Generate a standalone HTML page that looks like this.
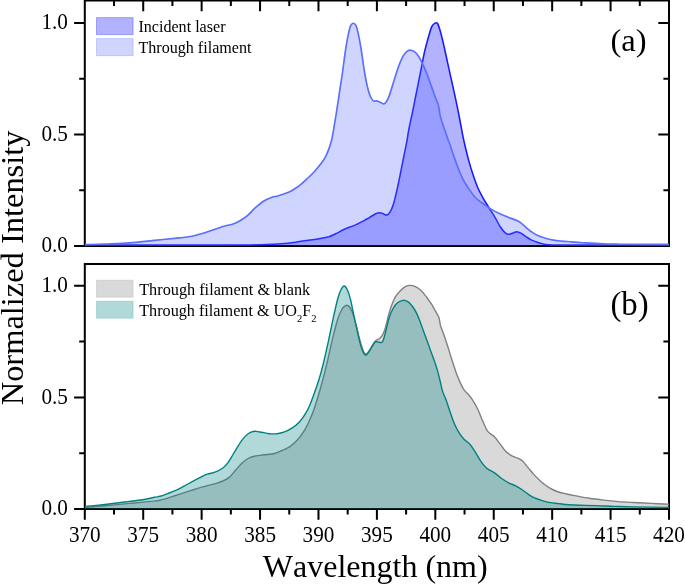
<!DOCTYPE html>
<html><head><meta charset="utf-8"><title>Spectra</title>
<style>html,body{margin:0;padding:0;background:#fff}svg{display:block}text{font-family:"Liberation Serif","Times New Roman",serif;fill:#000;font-kerning:none}</style></head>
<body>
<svg width="685" height="585" viewBox="0 0 685 585">
<rect width="685" height="585" fill="#fff"/>
<!-- panel a -->
<g stroke="#000" stroke-width="2" fill="none" stroke-linecap="butt">
<rect x="84.8" y="0.5" width="584.2" height="245.5"/>
<path d="M114.01,0.5v5.6M143.22,0.5v10.7M172.43,0.5v5.6M201.64,0.5v10.7M230.85,0.5v5.6M260.06,0.5v10.7M289.27,0.5v5.6M318.48,0.5v10.7M347.69,0.5v5.6M376.90,0.5v10.7M406.11,0.5v5.6M435.32,0.5v10.7M464.53,0.5v5.6M493.74,0.5v10.7M522.95,0.5v5.6M552.16,0.5v10.7M581.37,0.5v5.6M610.58,0.5v10.7M639.79,0.5v5.6M84.8,246.00h-10.7M84.8,190.25h-5.6M669.0,190.25h-5.6M84.8,134.50h-10.7M669.0,134.50h-10.7M84.8,78.75h-5.6M669.0,78.75h-5.6M84.8,23.00h-10.7M669.0,23.00h-10.7"/>
</g>
<path d="M85.0,245.1C95.8,245.1 127.5,245.1 150.0,245.1C172.5,245.1 203.3,245.1 220.0,245.1C236.7,245.1 243.0,245.1 250.0,245.0C257.0,244.9 258.2,244.8 262.0,244.7C265.8,244.6 269.3,244.4 273.0,244.2C276.7,244.0 280.6,243.9 284.4,243.6C288.2,243.3 291.9,242.7 295.6,242.2C299.3,241.7 303.0,240.9 306.7,240.4C310.4,239.9 314.1,239.5 317.8,238.9C321.5,238.3 325.9,237.5 328.9,236.7C331.9,235.8 333.0,235.0 335.6,233.8C338.2,232.6 341.1,230.8 344.4,229.3C347.7,227.8 352.3,226.4 355.6,224.9C358.9,223.4 362.2,221.6 364.4,220.4C366.6,219.2 367.0,218.9 368.9,217.8C370.8,216.7 373.8,214.7 375.6,213.8C377.5,213.0 378.7,212.7 380.0,212.7C381.3,212.7 382.2,213.4 383.3,213.8C384.4,214.2 385.6,215.4 386.7,215.1C387.8,214.8 388.9,214.0 390.0,212.2C391.1,210.4 392.2,207.9 393.3,204.4C394.4,200.9 395.6,195.9 396.7,191.1C397.8,186.3 398.9,181.0 400.0,175.6C401.1,170.2 402.2,164.5 403.3,158.9C404.4,153.3 405.8,147.0 406.7,142.2C407.6,137.4 407.8,135.0 408.7,130.1C409.6,125.2 411.1,118.9 412.4,112.6C413.7,106.3 415.1,98.9 416.5,92.1C417.9,85.3 419.2,78.4 420.6,71.6C422.0,64.8 423.3,57.1 424.7,51.1C426.1,45.1 427.6,39.8 428.8,35.7C430.0,31.6 430.9,28.5 431.9,26.4C432.9,24.3 434.1,23.8 435.0,23.3C435.9,22.8 436.5,22.1 437.4,23.3C438.2,24.5 439.1,27.2 440.1,30.5C441.1,33.8 442.0,37.7 443.2,42.8C444.4,47.9 445.9,55.1 447.3,61.3C448.7,67.5 450.0,73.6 451.4,79.8C452.8,86.0 454.1,91.8 455.5,98.3C456.9,104.8 458.4,112.3 459.6,118.5C460.8,124.7 461.8,130.5 462.8,135.6C463.8,140.7 464.8,144.7 465.8,148.9C466.8,153.2 467.6,156.7 468.9,161.1C470.1,165.5 471.8,171.1 473.3,175.6C474.8,180.1 476.3,184.3 477.8,187.8C479.3,191.3 481.0,194.2 482.2,196.5C483.4,198.8 483.8,199.3 485.1,201.5C486.4,203.7 488.5,206.9 490.2,209.6C491.9,212.3 493.6,214.9 495.3,217.8C497.0,220.7 498.7,224.4 500.4,227.0C502.1,229.6 504.0,231.9 505.5,233.1C507.0,234.3 508.2,234.3 509.6,234.2C511.0,234.1 512.5,233.1 513.7,232.7C514.9,232.3 515.6,231.6 516.8,231.7C518.0,231.8 519.4,232.3 520.9,233.1C522.4,233.9 524.3,235.5 526.0,236.6C527.7,237.7 529.2,239.0 531.1,239.9C533.0,240.8 534.8,241.4 537.2,242.2C539.6,243.0 542.4,244.0 545.4,244.5C548.4,245.0 552.3,244.9 555.0,245.0C557.7,245.1 554.2,245.1 561.7,245.1C569.2,245.1 582.1,245.1 600.0,245.1C617.9,245.1 657.5,245.1 669.0,245.1L669.0,245.6 L85.0,245.6 Z" fill="rgba(0,0,255,0.3)" stroke="none"/>
<path d="M85.0,245.1C95.8,245.1 127.5,245.1 150.0,245.1C172.5,245.1 203.3,245.1 220.0,245.1C236.7,245.1 243.0,245.1 250.0,245.0C257.0,244.9 258.2,244.8 262.0,244.7C265.8,244.6 269.3,244.4 273.0,244.2C276.7,244.0 280.6,243.9 284.4,243.6C288.2,243.3 291.9,242.7 295.6,242.2C299.3,241.7 303.0,240.9 306.7,240.4C310.4,239.9 314.1,239.5 317.8,238.9C321.5,238.3 325.9,237.5 328.9,236.7C331.9,235.8 333.0,235.0 335.6,233.8C338.2,232.6 341.1,230.8 344.4,229.3C347.7,227.8 352.3,226.4 355.6,224.9C358.9,223.4 362.2,221.6 364.4,220.4C366.6,219.2 367.0,218.9 368.9,217.8C370.8,216.7 373.8,214.7 375.6,213.8C377.5,213.0 378.7,212.7 380.0,212.7C381.3,212.7 382.2,213.4 383.3,213.8C384.4,214.2 385.6,215.4 386.7,215.1C387.8,214.8 388.9,214.0 390.0,212.2C391.1,210.4 392.2,207.9 393.3,204.4C394.4,200.9 395.6,195.9 396.7,191.1C397.8,186.3 398.9,181.0 400.0,175.6C401.1,170.2 402.2,164.5 403.3,158.9C404.4,153.3 405.8,147.0 406.7,142.2C407.6,137.4 407.8,135.0 408.7,130.1C409.6,125.2 411.1,118.9 412.4,112.6C413.7,106.3 415.1,98.9 416.5,92.1C417.9,85.3 419.2,78.4 420.6,71.6C422.0,64.8 423.3,57.1 424.7,51.1C426.1,45.1 427.6,39.8 428.8,35.7C430.0,31.6 430.9,28.5 431.9,26.4C432.9,24.3 434.1,23.8 435.0,23.3C435.9,22.8 436.5,22.1 437.4,23.3C438.2,24.5 439.1,27.2 440.1,30.5C441.1,33.8 442.0,37.7 443.2,42.8C444.4,47.9 445.9,55.1 447.3,61.3C448.7,67.5 450.0,73.6 451.4,79.8C452.8,86.0 454.1,91.8 455.5,98.3C456.9,104.8 458.4,112.3 459.6,118.5C460.8,124.7 461.8,130.5 462.8,135.6C463.8,140.7 464.8,144.7 465.8,148.9C466.8,153.2 467.6,156.7 468.9,161.1C470.1,165.5 471.8,171.1 473.3,175.6C474.8,180.1 476.3,184.3 477.8,187.8C479.3,191.3 481.0,194.2 482.2,196.5C483.4,198.8 483.8,199.3 485.1,201.5C486.4,203.7 488.5,206.9 490.2,209.6C491.9,212.3 493.6,214.9 495.3,217.8C497.0,220.7 498.7,224.4 500.4,227.0C502.1,229.6 504.0,231.9 505.5,233.1C507.0,234.3 508.2,234.3 509.6,234.2C511.0,234.1 512.5,233.1 513.7,232.7C514.9,232.3 515.6,231.6 516.8,231.7C518.0,231.8 519.4,232.3 520.9,233.1C522.4,233.9 524.3,235.5 526.0,236.6C527.7,237.7 529.2,239.0 531.1,239.9C533.0,240.8 534.8,241.4 537.2,242.2C539.6,243.0 542.4,244.0 545.4,244.5C548.4,245.0 552.3,244.9 555.0,245.0C557.7,245.1 554.2,245.1 561.7,245.1C569.2,245.1 582.1,245.1 600.0,245.1C617.9,245.1 657.5,245.1 669.0,245.1" fill="none" stroke="#1818ff" stroke-width="1.55" stroke-linejoin="round" stroke-linecap="butt"/>
<path d="M85.0,244.6C88.3,244.5 97.4,244.3 104.8,244.0C112.2,243.7 121.3,243.5 129.6,242.9C137.9,242.3 146.1,241.2 154.4,240.4C162.7,239.6 173.1,238.6 179.3,237.9C185.5,237.2 187.6,237.0 191.7,236.2C195.8,235.4 199.9,234.2 204.0,233.0C208.1,231.8 213.2,229.9 216.5,228.8C219.8,227.7 221.0,227.1 223.9,226.3C226.8,225.5 231.1,224.7 233.8,223.8C236.5,222.9 237.7,222.2 240.0,220.8C242.3,219.4 245.1,217.6 247.7,215.4C250.3,213.2 252.8,210.0 255.4,207.7C258.0,205.4 260.5,203.2 263.1,201.5C265.7,199.8 268.2,198.7 270.8,197.7C273.4,196.7 275.4,196.6 278.5,195.7C281.6,194.8 286.4,193.2 289.2,192.0C292.0,190.8 293.4,189.7 295.5,188.3C297.6,186.9 299.5,185.5 301.5,183.8C303.5,182.1 305.6,180.1 307.7,178.2C309.8,176.3 311.5,174.8 313.8,172.3C316.1,169.8 319.5,165.7 321.5,163.1C323.5,160.5 324.4,159.1 325.6,156.7C326.8,154.3 327.9,151.7 328.9,148.9C329.9,146.1 330.8,143.1 331.6,140.0C332.4,136.9 332.7,134.7 333.5,130.1C334.3,125.5 335.4,118.9 336.4,112.6C337.4,106.3 338.5,98.9 339.5,92.1C340.5,85.3 341.6,78.8 342.6,71.6C343.6,64.4 344.7,55.5 345.7,49.0C346.7,42.5 347.8,36.5 348.7,32.6C349.6,28.7 350.0,27.0 350.8,25.4C351.6,23.8 352.5,23.2 353.3,23.2C354.1,23.2 355.1,23.8 355.9,25.4C356.7,27.0 357.1,28.7 358.0,32.6C358.9,36.5 360.1,42.9 361.1,49.0C362.1,55.1 363.1,63.3 364.1,69.5C365.1,75.7 366.2,81.5 367.2,86.0C368.2,90.5 369.3,93.7 370.3,96.2C371.3,98.7 372.4,100.1 373.4,100.9C374.4,101.7 375.3,100.7 376.5,100.9C377.7,101.2 379.3,101.9 380.6,102.4C381.9,102.9 383.1,104.3 384.3,103.8C385.5,103.3 386.6,101.4 387.7,99.3C388.8,97.2 389.6,94.7 390.8,91.1C392.0,87.5 393.5,82.0 394.9,77.7C396.3,73.4 397.6,69.0 399.0,65.4C400.4,61.8 401.7,58.6 403.1,56.2C404.5,53.8 406.0,52.1 407.3,51.1C408.6,50.1 409.5,50.1 410.7,50.2C411.9,50.3 413.1,50.7 414.4,51.7C415.7,52.7 417.1,54.2 418.5,56.2C419.9,58.2 421.2,60.9 422.6,63.8C424.0,66.7 425.4,70.1 426.8,73.6C428.2,77.1 429.5,81.1 430.9,84.9C432.3,88.7 433.7,93.0 435.0,96.5C436.3,100.0 437.7,102.5 438.5,105.6C439.3,108.7 439.4,112.2 440.0,114.9C440.6,117.6 441.1,119.3 442.0,122.0C442.9,124.7 444.2,128.3 445.2,131.3C446.2,134.3 447.4,137.8 448.2,140.0C449.0,142.2 449.0,141.8 450.0,144.8C451.0,147.8 452.9,153.6 454.4,157.8C455.9,162.0 457.4,166.3 458.9,170.0C460.4,173.7 461.6,176.8 463.3,180.0C465.0,183.2 466.8,185.9 468.9,188.9C470.9,191.9 473.4,195.5 475.6,197.8C477.8,200.2 479.8,201.2 482.2,203.0C484.6,204.8 487.2,206.8 490.2,208.6C493.2,210.4 497.3,212.6 500.4,214.1C503.5,215.6 505.9,216.3 508.6,217.4C511.3,218.5 514.8,219.6 516.8,220.5C518.8,221.4 519.4,221.8 520.9,222.9C522.4,224.1 524.3,226.0 526.0,227.4C527.7,228.8 529.2,230.2 531.1,231.5C533.0,232.8 534.8,234.1 537.2,235.2C539.6,236.3 542.7,237.4 545.4,238.2C548.1,239.0 550.9,239.6 553.6,240.1C556.3,240.6 558.6,240.8 561.7,241.1C564.8,241.4 568.6,241.6 572.0,241.9C575.4,242.2 577.1,242.4 582.2,242.7C587.3,243.0 596.3,243.6 602.6,243.8C608.9,244.1 612.9,244.1 620.0,244.2C627.1,244.3 636.8,244.3 645.0,244.3C653.2,244.3 665.0,244.3 669.0,244.3L669.0,245.6 L85.0,245.6 Z" fill="rgba(85,105,255,0.28)" stroke="none"/>
<path d="M85.0,244.6C88.3,244.5 97.4,244.3 104.8,244.0C112.2,243.7 121.3,243.5 129.6,242.9C137.9,242.3 146.1,241.2 154.4,240.4C162.7,239.6 173.1,238.6 179.3,237.9C185.5,237.2 187.6,237.0 191.7,236.2C195.8,235.4 199.9,234.2 204.0,233.0C208.1,231.8 213.2,229.9 216.5,228.8C219.8,227.7 221.0,227.1 223.9,226.3C226.8,225.5 231.1,224.7 233.8,223.8C236.5,222.9 237.7,222.2 240.0,220.8C242.3,219.4 245.1,217.6 247.7,215.4C250.3,213.2 252.8,210.0 255.4,207.7C258.0,205.4 260.5,203.2 263.1,201.5C265.7,199.8 268.2,198.7 270.8,197.7C273.4,196.7 275.4,196.6 278.5,195.7C281.6,194.8 286.4,193.2 289.2,192.0C292.0,190.8 293.4,189.7 295.5,188.3C297.6,186.9 299.5,185.5 301.5,183.8C303.5,182.1 305.6,180.1 307.7,178.2C309.8,176.3 311.5,174.8 313.8,172.3C316.1,169.8 319.5,165.7 321.5,163.1C323.5,160.5 324.4,159.1 325.6,156.7C326.8,154.3 327.9,151.7 328.9,148.9C329.9,146.1 330.8,143.1 331.6,140.0C332.4,136.9 332.7,134.7 333.5,130.1C334.3,125.5 335.4,118.9 336.4,112.6C337.4,106.3 338.5,98.9 339.5,92.1C340.5,85.3 341.6,78.8 342.6,71.6C343.6,64.4 344.7,55.5 345.7,49.0C346.7,42.5 347.8,36.5 348.7,32.6C349.6,28.7 350.0,27.0 350.8,25.4C351.6,23.8 352.5,23.2 353.3,23.2C354.1,23.2 355.1,23.8 355.9,25.4C356.7,27.0 357.1,28.7 358.0,32.6C358.9,36.5 360.1,42.9 361.1,49.0C362.1,55.1 363.1,63.3 364.1,69.5C365.1,75.7 366.2,81.5 367.2,86.0C368.2,90.5 369.3,93.7 370.3,96.2C371.3,98.7 372.4,100.1 373.4,100.9C374.4,101.7 375.3,100.7 376.5,100.9C377.7,101.2 379.3,101.9 380.6,102.4C381.9,102.9 383.1,104.3 384.3,103.8C385.5,103.3 386.6,101.4 387.7,99.3C388.8,97.2 389.6,94.7 390.8,91.1C392.0,87.5 393.5,82.0 394.9,77.7C396.3,73.4 397.6,69.0 399.0,65.4C400.4,61.8 401.7,58.6 403.1,56.2C404.5,53.8 406.0,52.1 407.3,51.1C408.6,50.1 409.5,50.1 410.7,50.2C411.9,50.3 413.1,50.7 414.4,51.7C415.7,52.7 417.1,54.2 418.5,56.2C419.9,58.2 421.2,60.9 422.6,63.8C424.0,66.7 425.4,70.1 426.8,73.6C428.2,77.1 429.5,81.1 430.9,84.9C432.3,88.7 433.7,93.0 435.0,96.5C436.3,100.0 437.7,102.5 438.5,105.6C439.3,108.7 439.4,112.2 440.0,114.9C440.6,117.6 441.1,119.3 442.0,122.0C442.9,124.7 444.2,128.3 445.2,131.3C446.2,134.3 447.4,137.8 448.2,140.0C449.0,142.2 449.0,141.8 450.0,144.8C451.0,147.8 452.9,153.6 454.4,157.8C455.9,162.0 457.4,166.3 458.9,170.0C460.4,173.7 461.6,176.8 463.3,180.0C465.0,183.2 466.8,185.9 468.9,188.9C470.9,191.9 473.4,195.5 475.6,197.8C477.8,200.2 479.8,201.2 482.2,203.0C484.6,204.8 487.2,206.8 490.2,208.6C493.2,210.4 497.3,212.6 500.4,214.1C503.5,215.6 505.9,216.3 508.6,217.4C511.3,218.5 514.8,219.6 516.8,220.5C518.8,221.4 519.4,221.8 520.9,222.9C522.4,224.1 524.3,226.0 526.0,227.4C527.7,228.8 529.2,230.2 531.1,231.5C533.0,232.8 534.8,234.1 537.2,235.2C539.6,236.3 542.7,237.4 545.4,238.2C548.1,239.0 550.9,239.6 553.6,240.1C556.3,240.6 558.6,240.8 561.7,241.1C564.8,241.4 568.6,241.6 572.0,241.9C575.4,242.2 577.1,242.4 582.2,242.7C587.3,243.0 596.3,243.6 602.6,243.8C608.9,244.1 612.9,244.1 620.0,244.2C627.1,244.3 636.8,244.3 645.0,244.3C653.2,244.3 665.0,244.3 669.0,244.3" fill="none" stroke="#5a6eff" stroke-width="1.65" stroke-linejoin="round" stroke-linecap="butt"/>
<!-- panel b -->
<g stroke="#000" stroke-width="2" fill="none" stroke-linecap="butt">
<rect x="84.8" y="264.0" width="584.2" height="245.0"/>
<path d="M84.80,509.0v10.7M114.01,509.0v5.6M143.22,509.0v10.7M172.43,509.0v5.6M201.64,509.0v10.7M230.85,509.0v5.6M260.06,509.0v10.7M289.27,509.0v5.6M318.48,509.0v10.7M347.69,509.0v5.6M376.90,509.0v10.7M406.11,509.0v5.6M435.32,509.0v10.7M464.53,509.0v5.6M493.74,509.0v10.7M522.95,509.0v5.6M552.16,509.0v10.7M581.37,509.0v5.6M610.58,509.0v10.7M639.79,509.0v5.6M669.00,509.0v10.7M84.8,509.00h-10.7M84.8,453.20h-5.6M669.0,453.20h-5.6M84.8,397.40h-10.7M669.0,397.40h-10.7M84.8,341.60h-5.6M669.0,341.60h-5.6M84.8,285.80h-10.7M669.0,285.80h-10.7"/>
</g>
<path d="M85.0,507.4C88.3,507.1 97.4,506.5 104.8,505.8C112.2,505.1 122.1,504.1 129.6,503.4C137.1,502.7 144.9,501.9 150.0,501.4C155.1,500.9 155.7,501.2 160.0,500.2C164.3,499.2 170.5,497.1 175.7,495.5C180.9,493.9 186.2,492.0 191.4,490.4C196.7,488.8 203.3,486.8 207.2,485.7C211.1,484.6 212.4,484.5 215.0,483.7C217.6,482.9 220.5,482.1 222.9,481.0C225.3,479.9 227.1,479.2 229.2,477.4C231.3,475.6 233.4,472.7 235.5,470.3C237.6,467.9 239.7,465.2 241.8,463.2C243.9,461.2 246.0,459.7 248.1,458.5C250.2,457.3 252.3,456.7 254.3,456.2C256.3,455.7 257.9,455.7 260.0,455.4C262.1,455.1 264.8,454.8 267.2,454.5C269.6,454.2 272.1,454.2 274.6,453.5C277.1,452.8 279.5,451.6 282.0,450.5C284.5,449.4 287.0,448.4 289.5,446.8C292.0,445.2 294.4,443.3 296.9,440.6C299.4,437.9 302.0,434.4 304.3,430.7C306.6,427.0 308.6,422.6 310.5,418.3C312.4,414.0 313.9,409.7 315.5,404.7C317.1,399.7 318.5,395.2 320.4,388.5C322.3,381.8 324.6,372.9 326.7,364.4C328.8,355.9 330.9,345.4 332.8,337.7C334.7,330.0 336.4,323.0 338.0,318.2C339.6,313.4 340.9,311.1 342.1,309.0C343.3,306.9 344.3,306.5 345.2,305.9C346.1,305.3 346.8,305.1 347.6,305.5C348.5,305.9 349.4,306.6 350.3,308.0C351.2,309.4 352.0,311.0 353.0,314.1C354.0,317.2 355.4,322.4 356.5,326.5C357.6,330.6 358.5,335.1 359.5,338.8C360.5,342.6 361.6,346.4 362.6,349.0C363.6,351.6 364.7,353.8 365.7,354.2C366.7,354.6 367.8,352.5 368.8,351.1C369.8,349.7 370.9,347.6 371.9,346.0C372.9,344.4 373.7,342.6 374.9,341.4C376.1,340.2 377.8,339.8 379.0,338.8C380.2,337.9 381.1,337.4 382.1,335.7C383.1,334.0 384.2,331.8 385.2,328.5C386.2,325.2 387.3,320.0 388.3,316.2C389.3,312.4 390.2,309.1 391.4,305.9C392.6,302.6 394.0,299.3 395.5,296.7C397.0,294.1 398.9,292.2 400.6,290.5C402.3,288.8 404.0,287.2 405.7,286.4C407.4,285.5 409.2,285.3 410.9,285.4C412.6,285.5 414.3,285.9 416.0,286.8C417.7,287.7 419.4,288.9 421.1,290.5C422.8,292.1 424.6,294.5 426.3,296.7C428.0,298.9 430.0,301.8 431.4,303.9C432.8,306.0 433.1,306.9 434.4,309.2C435.6,311.5 437.9,314.8 438.9,317.5C439.9,320.2 439.7,323.0 440.5,325.7C441.3,328.4 442.4,330.5 443.6,333.9C444.8,337.3 446.3,341.9 447.7,346.2C449.1,350.5 450.4,355.2 451.8,359.5C453.2,363.8 454.5,368.1 455.9,371.9C457.3,375.7 458.6,379.1 460.0,382.1C461.4,385.1 462.6,387.7 464.1,389.9C465.7,392.1 467.7,393.6 469.3,395.5C470.9,397.4 472.1,399.2 473.5,401.5C474.9,403.8 476.2,405.9 477.8,409.2C479.4,412.5 481.2,417.8 482.9,421.5C484.6,425.2 486.1,429.2 488.0,431.7C489.9,434.2 492.3,434.5 494.2,436.4C496.1,438.3 497.4,440.4 499.3,442.9C501.2,445.3 503.4,449.0 505.4,451.1C507.4,453.2 509.4,454.4 511.5,455.6C513.5,456.8 515.8,457.2 517.7,458.2C519.6,459.1 521.1,459.8 522.8,461.3C524.5,462.8 526.0,465.2 527.9,467.4C529.8,469.6 532.0,472.4 534.0,474.6C536.0,476.8 538.1,478.8 540.1,480.7C542.1,482.6 544.2,484.3 546.3,485.8C548.3,487.3 550.4,488.5 552.4,489.5C554.4,490.5 556.1,491.2 558.5,492.0C560.9,492.8 564.0,493.4 566.7,494.0C569.4,494.6 570.9,494.9 574.6,495.6C578.4,496.3 584.3,497.6 589.2,498.3C594.1,499.1 598.9,499.6 603.8,500.1C608.7,500.7 613.5,501.2 618.4,501.6C623.3,502.0 627.5,502.2 633.0,502.5C638.5,502.8 645.2,503.1 651.2,503.4C657.2,503.7 666.0,504.1 669.0,504.3L669.0,508.6 L85.0,508.6 Z" fill="rgba(128,128,128,0.3)" stroke="none"/>
<path d="M85.0,507.4C88.3,507.1 97.4,506.5 104.8,505.8C112.2,505.1 122.1,504.1 129.6,503.4C137.1,502.7 144.9,501.9 150.0,501.4C155.1,500.9 155.7,501.2 160.0,500.2C164.3,499.2 170.5,497.1 175.7,495.5C180.9,493.9 186.2,492.0 191.4,490.4C196.7,488.8 203.3,486.8 207.2,485.7C211.1,484.6 212.4,484.5 215.0,483.7C217.6,482.9 220.5,482.1 222.9,481.0C225.3,479.9 227.1,479.2 229.2,477.4C231.3,475.6 233.4,472.7 235.5,470.3C237.6,467.9 239.7,465.2 241.8,463.2C243.9,461.2 246.0,459.7 248.1,458.5C250.2,457.3 252.3,456.7 254.3,456.2C256.3,455.7 257.9,455.7 260.0,455.4C262.1,455.1 264.8,454.8 267.2,454.5C269.6,454.2 272.1,454.2 274.6,453.5C277.1,452.8 279.5,451.6 282.0,450.5C284.5,449.4 287.0,448.4 289.5,446.8C292.0,445.2 294.4,443.3 296.9,440.6C299.4,437.9 302.0,434.4 304.3,430.7C306.6,427.0 308.6,422.6 310.5,418.3C312.4,414.0 313.9,409.7 315.5,404.7C317.1,399.7 318.5,395.2 320.4,388.5C322.3,381.8 324.6,372.9 326.7,364.4C328.8,355.9 330.9,345.4 332.8,337.7C334.7,330.0 336.4,323.0 338.0,318.2C339.6,313.4 340.9,311.1 342.1,309.0C343.3,306.9 344.3,306.5 345.2,305.9C346.1,305.3 346.8,305.1 347.6,305.5C348.5,305.9 349.4,306.6 350.3,308.0C351.2,309.4 352.0,311.0 353.0,314.1C354.0,317.2 355.4,322.4 356.5,326.5C357.6,330.6 358.5,335.1 359.5,338.8C360.5,342.6 361.6,346.4 362.6,349.0C363.6,351.6 364.7,353.8 365.7,354.2C366.7,354.6 367.8,352.5 368.8,351.1C369.8,349.7 370.9,347.6 371.9,346.0C372.9,344.4 373.7,342.6 374.9,341.4C376.1,340.2 377.8,339.8 379.0,338.8C380.2,337.9 381.1,337.4 382.1,335.7C383.1,334.0 384.2,331.8 385.2,328.5C386.2,325.2 387.3,320.0 388.3,316.2C389.3,312.4 390.2,309.1 391.4,305.9C392.6,302.6 394.0,299.3 395.5,296.7C397.0,294.1 398.9,292.2 400.6,290.5C402.3,288.8 404.0,287.2 405.7,286.4C407.4,285.5 409.2,285.3 410.9,285.4C412.6,285.5 414.3,285.9 416.0,286.8C417.7,287.7 419.4,288.9 421.1,290.5C422.8,292.1 424.6,294.5 426.3,296.7C428.0,298.9 430.0,301.8 431.4,303.9C432.8,306.0 433.1,306.9 434.4,309.2C435.6,311.5 437.9,314.8 438.9,317.5C439.9,320.2 439.7,323.0 440.5,325.7C441.3,328.4 442.4,330.5 443.6,333.9C444.8,337.3 446.3,341.9 447.7,346.2C449.1,350.5 450.4,355.2 451.8,359.5C453.2,363.8 454.5,368.1 455.9,371.9C457.3,375.7 458.6,379.1 460.0,382.1C461.4,385.1 462.6,387.7 464.1,389.9C465.7,392.1 467.7,393.6 469.3,395.5C470.9,397.4 472.1,399.2 473.5,401.5C474.9,403.8 476.2,405.9 477.8,409.2C479.4,412.5 481.2,417.8 482.9,421.5C484.6,425.2 486.1,429.2 488.0,431.7C489.9,434.2 492.3,434.5 494.2,436.4C496.1,438.3 497.4,440.4 499.3,442.9C501.2,445.3 503.4,449.0 505.4,451.1C507.4,453.2 509.4,454.4 511.5,455.6C513.5,456.8 515.8,457.2 517.7,458.2C519.6,459.1 521.1,459.8 522.8,461.3C524.5,462.8 526.0,465.2 527.9,467.4C529.8,469.6 532.0,472.4 534.0,474.6C536.0,476.8 538.1,478.8 540.1,480.7C542.1,482.6 544.2,484.3 546.3,485.8C548.3,487.3 550.4,488.5 552.4,489.5C554.4,490.5 556.1,491.2 558.5,492.0C560.9,492.8 564.0,493.4 566.7,494.0C569.4,494.6 570.9,494.9 574.6,495.6C578.4,496.3 584.3,497.6 589.2,498.3C594.1,499.1 598.9,499.6 603.8,500.1C608.7,500.7 613.5,501.2 618.4,501.6C623.3,502.0 627.5,502.2 633.0,502.5C638.5,502.8 645.2,503.1 651.2,503.4C657.2,503.7 666.0,504.1 669.0,504.3" fill="none" stroke="#808080" stroke-width="1.4" stroke-linejoin="round" stroke-linecap="butt"/>
<path d="M85.0,506.4C88.3,506.1 99.1,505.1 104.8,504.5C110.5,503.9 114.9,503.2 119.0,502.7C123.1,502.2 125.7,501.9 129.6,501.4C133.5,500.9 138.3,500.4 142.4,499.7C146.5,499.0 151.5,497.9 154.4,497.3C157.3,496.7 157.8,496.9 160.0,496.3C162.2,495.7 164.9,494.6 167.5,493.6C170.1,492.6 173.0,491.6 175.7,490.4C178.4,489.2 180.9,487.8 183.5,486.4C186.1,485.0 188.8,483.5 191.4,482.1C194.0,480.7 196.7,479.2 199.3,477.9C201.9,476.6 204.6,475.1 207.2,474.2C209.8,473.2 212.4,473.2 215.0,472.2C217.6,471.2 220.8,469.5 222.9,468.0C225.0,466.5 225.8,465.7 227.6,463.2C229.4,460.7 231.5,456.8 233.9,453.0C236.3,449.2 239.4,443.6 241.8,440.4C244.2,437.2 246.0,435.3 248.1,433.8C250.2,432.3 252.3,431.6 254.3,431.3C256.3,431.0 257.4,431.6 260.0,432.0C262.6,432.4 266.8,433.4 269.6,433.7C272.5,434.0 274.6,434.0 277.1,433.7C279.6,433.4 282.0,432.8 284.5,431.9C287.0,431.0 289.4,429.8 291.9,428.2C294.4,426.6 297.1,424.5 299.4,422.0C301.7,419.5 303.8,416.5 305.6,413.4C307.5,410.3 308.9,407.3 310.5,403.4C312.1,399.5 314.1,393.9 315.5,389.8C316.9,385.7 318.0,382.6 319.2,378.7C320.4,374.8 321.0,373.0 322.6,366.5C324.2,360.0 326.8,348.4 328.7,339.8C330.6,331.2 332.3,322.2 333.9,315.2C335.4,308.2 336.8,302.0 338.0,297.7C339.2,293.4 340.1,291.4 341.1,289.5C342.1,287.6 343.1,286.0 344.1,286.0C345.1,286.0 346.2,287.4 347.2,289.5C348.2,291.6 349.3,294.8 350.3,298.7C351.3,302.6 352.4,308.3 353.4,313.1C354.4,317.9 355.5,322.9 356.5,327.5C357.5,332.1 358.5,336.9 359.5,340.8C360.5,344.7 361.6,348.7 362.6,351.1C363.6,353.5 364.7,355.0 365.7,355.2C366.7,355.4 367.8,353.5 368.8,352.1C369.8,350.7 370.9,348.6 371.9,347.0C372.9,345.4 373.9,343.2 374.9,342.3C375.9,341.4 377.0,341.9 378.0,341.9C379.0,341.9 380.2,342.7 381.1,342.5C382.0,342.3 382.2,343.0 383.1,340.8C384.0,338.6 385.2,333.4 386.2,329.5C387.2,325.6 388.1,320.8 389.3,317.2C390.5,313.6 392.0,310.4 393.4,308.0C394.8,305.6 396.1,304.0 397.5,302.8C398.9,301.6 400.4,301.2 401.6,300.8C402.8,300.4 403.5,300.1 404.7,300.4C405.9,300.7 407.4,301.3 408.8,302.4C410.2,303.5 411.5,305.1 412.9,307.0C414.3,308.9 415.6,311.2 417.0,314.1C418.4,317.0 419.7,320.8 421.1,324.4C422.5,328.0 423.8,331.9 425.2,335.7C426.6,339.5 427.9,343.2 429.3,347.0C430.7,350.8 432.0,354.4 433.4,358.3C434.8,362.2 436.4,366.8 437.5,370.6C438.6,374.4 439.2,377.5 440.1,381.0C441.0,384.5 441.6,388.2 442.6,391.4C443.6,394.6 444.8,396.5 446.1,400.0C447.4,403.5 448.8,408.4 450.2,412.3C451.6,416.2 452.9,420.3 454.3,423.5C455.7,426.7 456.9,429.1 458.4,431.7C459.9,434.2 461.6,436.8 463.5,438.8C465.4,440.8 467.7,441.8 469.6,443.9C471.5,445.9 472.8,448.2 474.7,451.1C476.6,454.0 478.8,458.4 480.9,461.3C482.9,464.2 484.8,466.6 487.0,468.5C489.2,470.4 491.8,471.0 494.2,472.6C496.6,474.2 498.9,476.6 501.3,478.3C503.7,480.0 506.1,481.6 508.5,482.8C510.9,484.1 513.4,484.7 515.6,485.8C517.8,486.9 519.8,488.1 521.8,489.5C523.8,490.9 525.9,492.6 527.9,494.0C529.9,495.4 531.6,496.6 534.0,497.7C536.4,498.8 539.5,499.8 542.2,500.6C544.9,501.4 547.7,502.1 550.4,502.6C553.1,503.1 555.4,503.2 558.5,503.6C561.6,504.0 565.2,504.5 568.8,504.8C572.4,505.1 575.4,505.2 580.0,505.3C584.6,505.4 590.7,505.4 596.5,505.6C602.3,505.8 608.6,506.2 614.7,506.4C620.8,506.6 624.0,506.7 633.0,506.9C642.0,507.1 663.0,507.3 669.0,507.4L669.0,508.6 L85.0,508.6 Z" fill="rgba(0,128,128,0.3)" stroke="none"/>
<path d="M85.0,506.4C88.3,506.1 99.1,505.1 104.8,504.5C110.5,503.9 114.9,503.2 119.0,502.7C123.1,502.2 125.7,501.9 129.6,501.4C133.5,500.9 138.3,500.4 142.4,499.7C146.5,499.0 151.5,497.9 154.4,497.3C157.3,496.7 157.8,496.9 160.0,496.3C162.2,495.7 164.9,494.6 167.5,493.6C170.1,492.6 173.0,491.6 175.7,490.4C178.4,489.2 180.9,487.8 183.5,486.4C186.1,485.0 188.8,483.5 191.4,482.1C194.0,480.7 196.7,479.2 199.3,477.9C201.9,476.6 204.6,475.1 207.2,474.2C209.8,473.2 212.4,473.2 215.0,472.2C217.6,471.2 220.8,469.5 222.9,468.0C225.0,466.5 225.8,465.7 227.6,463.2C229.4,460.7 231.5,456.8 233.9,453.0C236.3,449.2 239.4,443.6 241.8,440.4C244.2,437.2 246.0,435.3 248.1,433.8C250.2,432.3 252.3,431.6 254.3,431.3C256.3,431.0 257.4,431.6 260.0,432.0C262.6,432.4 266.8,433.4 269.6,433.7C272.5,434.0 274.6,434.0 277.1,433.7C279.6,433.4 282.0,432.8 284.5,431.9C287.0,431.0 289.4,429.8 291.9,428.2C294.4,426.6 297.1,424.5 299.4,422.0C301.7,419.5 303.8,416.5 305.6,413.4C307.5,410.3 308.9,407.3 310.5,403.4C312.1,399.5 314.1,393.9 315.5,389.8C316.9,385.7 318.0,382.6 319.2,378.7C320.4,374.8 321.0,373.0 322.6,366.5C324.2,360.0 326.8,348.4 328.7,339.8C330.6,331.2 332.3,322.2 333.9,315.2C335.4,308.2 336.8,302.0 338.0,297.7C339.2,293.4 340.1,291.4 341.1,289.5C342.1,287.6 343.1,286.0 344.1,286.0C345.1,286.0 346.2,287.4 347.2,289.5C348.2,291.6 349.3,294.8 350.3,298.7C351.3,302.6 352.4,308.3 353.4,313.1C354.4,317.9 355.5,322.9 356.5,327.5C357.5,332.1 358.5,336.9 359.5,340.8C360.5,344.7 361.6,348.7 362.6,351.1C363.6,353.5 364.7,355.0 365.7,355.2C366.7,355.4 367.8,353.5 368.8,352.1C369.8,350.7 370.9,348.6 371.9,347.0C372.9,345.4 373.9,343.2 374.9,342.3C375.9,341.4 377.0,341.9 378.0,341.9C379.0,341.9 380.2,342.7 381.1,342.5C382.0,342.3 382.2,343.0 383.1,340.8C384.0,338.6 385.2,333.4 386.2,329.5C387.2,325.6 388.1,320.8 389.3,317.2C390.5,313.6 392.0,310.4 393.4,308.0C394.8,305.6 396.1,304.0 397.5,302.8C398.9,301.6 400.4,301.2 401.6,300.8C402.8,300.4 403.5,300.1 404.7,300.4C405.9,300.7 407.4,301.3 408.8,302.4C410.2,303.5 411.5,305.1 412.9,307.0C414.3,308.9 415.6,311.2 417.0,314.1C418.4,317.0 419.7,320.8 421.1,324.4C422.5,328.0 423.8,331.9 425.2,335.7C426.6,339.5 427.9,343.2 429.3,347.0C430.7,350.8 432.0,354.4 433.4,358.3C434.8,362.2 436.4,366.8 437.5,370.6C438.6,374.4 439.2,377.5 440.1,381.0C441.0,384.5 441.6,388.2 442.6,391.4C443.6,394.6 444.8,396.5 446.1,400.0C447.4,403.5 448.8,408.4 450.2,412.3C451.6,416.2 452.9,420.3 454.3,423.5C455.7,426.7 456.9,429.1 458.4,431.7C459.9,434.2 461.6,436.8 463.5,438.8C465.4,440.8 467.7,441.8 469.6,443.9C471.5,445.9 472.8,448.2 474.7,451.1C476.6,454.0 478.8,458.4 480.9,461.3C482.9,464.2 484.8,466.6 487.0,468.5C489.2,470.4 491.8,471.0 494.2,472.6C496.6,474.2 498.9,476.6 501.3,478.3C503.7,480.0 506.1,481.6 508.5,482.8C510.9,484.1 513.4,484.7 515.6,485.8C517.8,486.9 519.8,488.1 521.8,489.5C523.8,490.9 525.9,492.6 527.9,494.0C529.9,495.4 531.6,496.6 534.0,497.7C536.4,498.8 539.5,499.8 542.2,500.6C544.9,501.4 547.7,502.1 550.4,502.6C553.1,503.1 555.4,503.2 558.5,503.6C561.6,504.0 565.2,504.5 568.8,504.8C572.4,505.1 575.4,505.2 580.0,505.3C584.6,505.4 590.7,505.4 596.5,505.6C602.3,505.8 608.6,506.2 614.7,506.4C620.8,506.6 624.0,506.7 633.0,506.9C642.0,507.1 663.0,507.3 669.0,507.4" fill="none" stroke="#008080" stroke-width="1.4" stroke-linejoin="round" stroke-linecap="butt"/>
<g font-size="21.2" text-anchor="end">
<text transform="translate(67.9,29.2) scale(1,1.09)">1.0</text>
<text transform="translate(67.9,140.7) scale(1,1.09)">0.5</text>
<text transform="translate(67.9,252.2) scale(1,1.09)">0.0</text>
<text transform="translate(67.9,292.0) scale(1,1.09)">1.0</text>
<text transform="translate(67.9,403.6) scale(1,1.09)">0.5</text>
<text transform="translate(67.9,515.2) scale(1,1.09)">0.0</text>
</g>
<g font-size="21.2" text-anchor="middle">
<text transform="translate(84.8,541.8) scale(1,1.09)">370</text>
<text transform="translate(143.2,541.8) scale(1,1.09)">375</text>
<text transform="translate(201.6,541.8) scale(1,1.09)">380</text>
<text transform="translate(260.1,541.8) scale(1,1.09)">385</text>
<text transform="translate(318.5,541.8) scale(1,1.09)">390</text>
<text transform="translate(376.9,541.8) scale(1,1.09)">395</text>
<text transform="translate(435.3,541.8) scale(1,1.09)">400</text>
<text transform="translate(493.7,541.8) scale(1,1.09)">405</text>
<text transform="translate(552.2,541.8) scale(1,1.09)">410</text>
<text transform="translate(610.6,541.8) scale(1,1.09)">415</text>
<text transform="translate(669.0,541.8) scale(1,1.09)">420</text>
</g>
<text x="375.2" y="577.4" font-size="32" text-anchor="middle">Wavelength (nm)</text>
<text transform="translate(23.0,267.9) rotate(-90)" font-size="32.45" text-anchor="middle">Normalized Intensity</text>
<text x="610.4" y="51.3" font-size="32.6">(a)</text>
<text x="610.4" y="314.5" font-size="32.8">(b)</text>
<rect x="96.5" y="17.6" width="36.6" height="17" fill="rgba(0,0,255,0.3)" stroke="rgba(0,0,255,0.28)" stroke-width="1"/>
<rect x="96.5" y="38.6" width="36.6" height="17" fill="rgba(85,105,255,0.28)" stroke="rgba(85,105,255,0.27)" stroke-width="1"/>
<text x="138.4" y="31.6" font-size="16.1">Incident laser</text>
<text x="138.4" y="52.7" font-size="16.1">Through filament</text>
<rect x="96.5" y="280.2" width="36.6" height="17" fill="rgba(128,128,128,0.3)" stroke="rgba(128,128,128,0.2)" stroke-width="1"/>
<rect x="96.5" y="301.2" width="36.6" height="17" fill="rgba(0,128,128,0.3)" stroke="rgba(0,128,128,0.2)" stroke-width="1"/>
<text x="139.2" y="294.5" font-size="16.25">Through filament &amp; blank</text>
<text x="139.2" y="315.9" font-size="16.2">Through filament &amp; UO<tspan font-size="10.5" dy="6">2</tspan><tspan dy="-6">F</tspan><tspan font-size="10.5" dy="6">2</tspan></text>
</svg>
</body></html>
